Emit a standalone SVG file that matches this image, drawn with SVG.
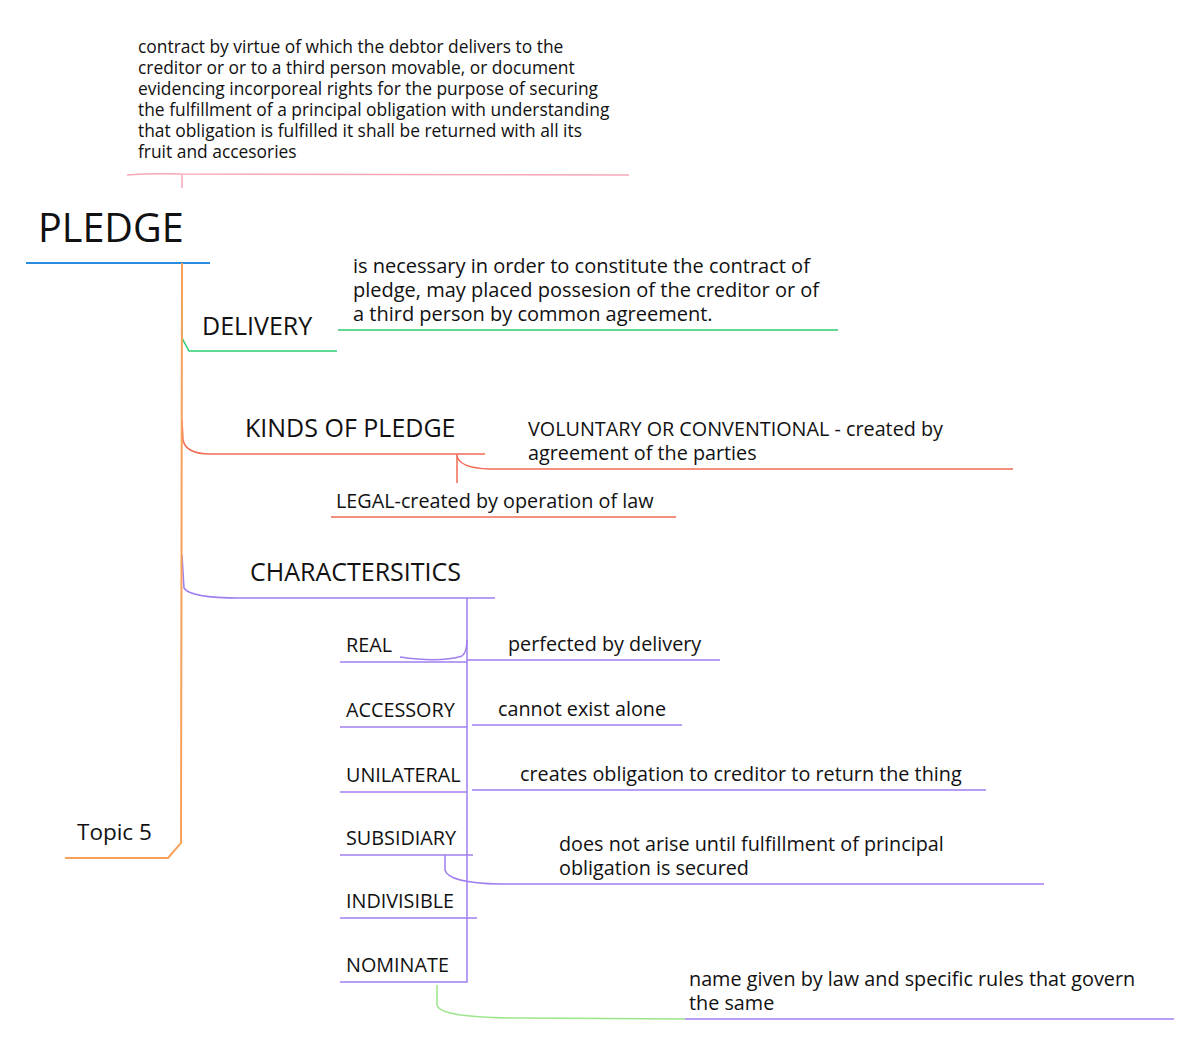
<svg xmlns="http://www.w3.org/2000/svg" width="1200" height="1045" viewBox="0 0 1200 1045">
<style>
text{font-family:"Open Sans","Noto Sans",sans-serif;fill:#111}
.s{font-size:17.4px}.m{font-size:19.8px}.b{font-size:25px}
path,line{fill:none;stroke-width:1.5}
.pk{stroke:#f7a8b8}.or{stroke:#f7a15a;stroke-width:2}.gr{stroke:#2ecc71}.rd{stroke:#f26b55}.pu{stroke:#a07ef0}.lg{stroke:#9be58a}.bl{stroke:#2a8be0;stroke-width:2}
</style>
<rect width="1200" height="1045" fill="#fff"/>
<g id="connectors">
<path class="pk" d="M127,175 Q150,173 182,174 L629,175 M182,175 V188"/>
<path class="bl" d="M26,263 H210"/>
<path class="gr" d="M182,300 L182,338 L189,351 H337 M338,330 H838"/>
<path class="rd" d="M182,420 L183,440 Q186,454 210,454 H485 M457,454 V483 M457,455 Q458,468 490,469 H1013 M331,517 H676"/>
<path class="pu" d="M182,555 L184,588 Q190,598 240,598 H495 M467,598 V982 H340"/>
<path class="or" d="M182,263 L181,843 L168,858 H65"/>
<path class="pu" d="M400,657 Q440,663 462,656 Q467,652 467,640 M340,662 H467 M467,660 H720 M340,727 H467 M472,725 H682 M340,792 H467 M472,790 H986 M340,855 H473 M445,855 V870 Q448,883 500,884 H1044 M340,918 H477 M685,1019 H1174"/>
<path class="lg" d="M437,985 V1005 Q440,1018 520,1018 L685,1019"/>
</g>
<g id="definition"><text class="s" x="138" y="53">contract by virtue of which the debtor delivers to the</text><text class="s" x="138" y="74">creditor or or to a third person movable, or document</text><text class="s" x="138" y="95">evidencing incorporeal rights for the purpose of securing</text><text class="s" x="138" y="116">the fulfillment of a principal obligation with understanding</text><text class="s" x="138" y="137">that obligation is fulfilled it shall be returned with all its</text><text class="s" x="138" y="158">fruit and accesories</text></g>
<g id="pledge"><text x="38" y="242" font-size="39.5">PLEDGE</text></g>
<g id="topic5"><text x="77" y="840" font-size="22.5">Topic 5</text></g>
<g id="delivery"><text class="b" x="202" y="335">DELIVERY</text></g>
<g id="delivery-note"><text font-size="20" x="353" y="273">is necessary in order to constitute the contract of</text><text font-size="20" x="353" y="297">pledge, may placed possesion of the creditor or of</text><text font-size="20" x="353" y="321">a third person by common agreement.</text></g>
<g id="kinds"><text class="b" x="245" y="437">KINDS OF PLEDGE</text></g>
<g id="voluntary"><text class="m" x="528" y="436">VOLUNTARY OR CONVENTIONAL - created by</text><text class="m" x="528" y="460">agreement of the parties</text></g>
<g id="legal"><text class="m" x="336" y="508">LEGAL-created by operation of law</text></g>
<g id="chars"><text class="b" x="250" y="581">CHARACTERSITICS</text></g>
<g id="real"><text class="m" x="346" y="652">REAL</text></g>
<g id="real-note"><text class="m" x="508" y="651">perfected by delivery</text></g>
<g id="accessory"><text class="m" x="346" y="717">ACCESSORY</text></g>
<g id="accessory-note"><text class="m" x="498" y="716">cannot exist alone</text></g>
<g id="unilateral"><text class="m" x="346" y="782">UNILATERAL</text></g>
<g id="unilateral-note"><text class="m" x="520" y="781">creates obligation to creditor to return the thing</text></g>
<g id="subsidiary"><text class="m" x="346" y="845">SUBSIDIARY</text></g>
<g id="subsidiary-note"><text class="m" x="559" y="851">does not arise until fulfillment of principal</text><text class="m" x="559" y="875">obligation is secured</text></g>
<g id="indivisible"><text class="m" x="346" y="908">INDIVISIBLE</text></g>
<g id="nominate"><text class="m" x="346" y="972">NOMINATE</text></g>
<g id="nominate-note"><text class="m" x="689" y="986">name given by law and specific rules that govern</text><text class="m" x="689" y="1010">the same</text></g>
</svg>
